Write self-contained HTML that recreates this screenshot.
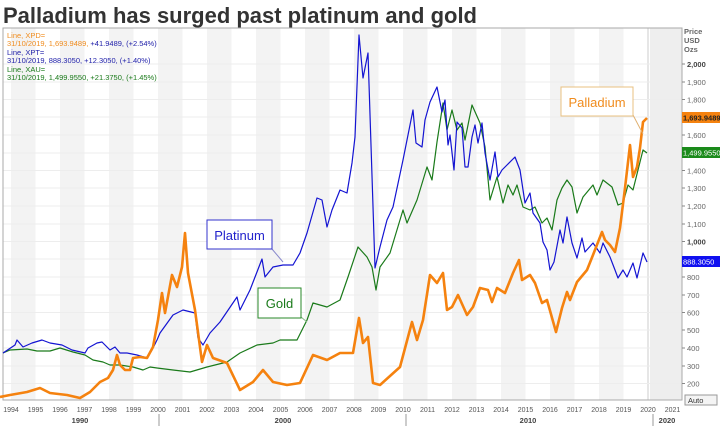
<!DOCTYPE html>
<html><head><meta charset="utf-8"><style>
body{margin:0;background:#fff;width:720px;height:426px;overflow:hidden;font-family:"Liberation Sans",sans-serif}
</style></head><body>
<svg width="720" height="426" viewBox="0 0 720 426" xmlns="http://www.w3.org/2000/svg" font-family="Liberation Sans, sans-serif">
<rect width="720" height="426" fill="#fff"/>
<text x="3" y="23" font-size="22" font-weight="bold" fill="#333" textLength="474" lengthAdjust="spacingAndGlyphs">Palladium has surged past platinum and gold</text>
<g fill="#f3f3f3">
<rect x="11" y="28" width="24.5" height="372"/>
<rect x="60" y="28" width="24.5" height="372"/>
<rect x="109" y="28" width="24.5" height="372"/>
<rect x="158" y="28" width="24.5" height="372"/>
<rect x="207" y="28" width="24.5" height="372"/>
<rect x="256" y="28" width="24.5" height="372"/>
<rect x="305" y="28" width="24.5" height="372"/>
<rect x="354" y="28" width="24.5" height="372"/>
<rect x="403" y="28" width="24.5" height="372"/>
<rect x="452" y="28" width="24.5" height="372"/>
<rect x="501" y="28" width="24.5" height="372"/>
<rect x="550" y="28" width="24.5" height="372"/>
<rect x="599" y="28" width="24.5" height="372"/>
<rect x="650" y="28" width="32" height="372" fill="#eeeeee"/>
</g>
<line x1="648" y1="28" x2="648" y2="400" stroke="#ccc"/>
<g stroke="#ededed" stroke-width="1">
<line x1="3" x2="682" y1="64" y2="64"/><line x1="3" x2="682" y1="82" y2="82"/><line x1="3" x2="682" y1="99.5" y2="99.5"/><line x1="3" x2="682" y1="117" y2="117"/><line x1="3" x2="682" y1="135" y2="135"/><line x1="3" x2="682" y1="153" y2="153"/><line x1="3" x2="682" y1="170.5" y2="170.5"/><line x1="3" x2="682" y1="188" y2="188"/><line x1="3" x2="682" y1="206" y2="206"/><line x1="3" x2="682" y1="224" y2="224"/><line x1="3" x2="682" y1="241.5" y2="241.5"/><line x1="3" x2="682" y1="259" y2="259"/><line x1="3" x2="682" y1="277" y2="277"/><line x1="3" x2="682" y1="295" y2="295"/><line x1="3" x2="682" y1="312.5" y2="312.5"/><line x1="3" x2="682" y1="330" y2="330"/><line x1="3" x2="682" y1="348" y2="348"/><line x1="3" x2="682" y1="366" y2="366"/><line x1="3" x2="682" y1="383.5" y2="383.5"/>
</g>
<rect x="3" y="28" width="679" height="372" fill="none" stroke="#aaa"/>
<g font-size="7.5">
<text x="7" y="38" fill="#f08c1e">Line, XPD=</text>
<text x="7" y="46" fill="#f08c1e">31/10/2019, 1,693.9489, <tspan fill="#2222aa">+41.9489, (+2.54%)</tspan></text>
<text x="7" y="55" fill="#2222aa">Line, XPT=</text>
<text x="7" y="63" fill="#2222aa">31/10/2019, 888.3050, +12.3050, (+1.40%)</text>
<text x="7" y="72" fill="#1a7a1a">Line, XAU=</text>
<text x="7" y="80" fill="#1a7a1a">31/10/2019, 1,499.9550, +21.3750, (+1.45%)</text>
</g>
<polyline fill="none" stroke="#1a7a1a" stroke-width="1.2" stroke-linejoin="round" points="3,353 10,350 27,349 37,351 50,351 60,348 73,352 85,355 93,360 103,362 110,365 120,365 133,367 143,370 150,367 157,368 173,370 190,372 207,367 227,362 240,353 257,345 273,343 280,340 297,340 307,320 313,303 327,307 340,300 348,277 358,247 367,257 372,267 376,290 380,267 390,253 403,210 407,223 417,200 427,167 432,180 437,142 443,103 447,130 452,110 457,130 462,123 465,140 472,105 480,123 485,147 490,200 497,177 503,203 508,185 513,195 517,185 523,207 530,210 535,207 542,223 547,218 552,230 557,200 562,188 567,180 572,187 577,213 583,197 593,185 597,195 603,180 612,187 618,205 623,203 628,185 633,190 638,170 643,150 647,153"/>
<polyline fill="none" stroke="#1414d2" stroke-width="1.2" stroke-linejoin="round" points="3,353 15,345 17,340 23,347 32,343 42,340 50,343 62,345 72,350 85,353 88,348 97,343 102,342 110,350 115,347 120,353 127,353 137,355 147,358 152,350 157,340 160,333 173,315 183,310 195,313 198,338 203,345 210,333 220,322 237,297 240,310 250,290 262,259 265,277 273,267 283,265 293,265 300,253 307,233 317,198 322,200 327,227 332,210 340,190 347,193 352,163 355,137 359,35 363,78 368,53 375,268 380,247 387,220 393,207 403,160 413,110 416,143 422,147 425,120 430,102 437,87 442,112 445,100 448,145 450,135 454,170 457,122 462,128 465,167 468,167 472,137 475,125 478,143 482,123 485,153 490,180 495,152 498,177 502,170 507,165 515,157 520,170 525,203 530,193 533,213 540,223 543,242 547,250 550,270 554,262 560,230 563,243 567,217 572,243 577,258 582,238 585,252 593,243 600,253 603,243 610,257 615,270 618,278 623,270 627,277 633,263 637,278 643,253 647,262"/>
<polyline fill="none" stroke="#f5820f" stroke-width="2.6" stroke-linejoin="round" points="0,397 10,395 27,392 40,388 50,393 67,395 80,398 90,392 100,382 108,378 113,370 117,355 120,365 125,370 130,370 133,358 140,357 147,358 153,347 158,320 162,293 165,313 172,275 177,287 182,267 185,233 188,273 195,310 202,362 207,345 213,358 227,363 240,390 253,382 263,370 273,382 287,385 300,383 313,355 327,360 340,353 353,353 359,318 363,343 368,337 373,383 380,385 400,367 412,322 417,340 423,320 430,275 437,283 443,273 447,310 452,307 458,295 467,315 473,307 480,288 488,290 492,302 497,288 505,293 513,273 519,260 522,280 530,275 535,283 542,303 547,300 556,332 562,308 567,292 570,300 577,282 587,270 593,255 602,232 605,240 610,245 615,252 620,228 625,188 630,145 633,177 637,167 640,148 643,122 647,118"/>
<line x1="272" y1="249" x2="283" y2="262" stroke="#8888cc"/>
<rect x="207" y="220" width="65" height="29" fill="#fff" stroke="#3333cc"/>
<text x="239.5" y="240" font-size="13" fill="#2222cc" text-anchor="middle">Platinum</text>
<line x1="301" y1="317" x2="307" y2="322" stroke="#88bb88"/>
<rect x="258" y="288" width="43" height="30" fill="#fff" stroke="#2a8a2a"/>
<text x="279.5" y="308" font-size="13" fill="#1a7a1a" text-anchor="middle">Gold</text>
<line x1="633" y1="115" x2="643" y2="134" stroke="#e0b070"/>
<rect x="561" y="87" width="72" height="29" fill="#fff" stroke="#e8c080"/>
<text x="597" y="107" font-size="13" fill="#f08c1e" text-anchor="middle">Palladium</text>
<g font-size="7.5" fill="#666">
<text x="684" y="34" font-weight="bold">Price</text>
<text x="684" y="43" font-weight="bold">USD</text>
<text x="684" y="52" font-weight="bold">Ozs</text>
</g>
<g font-size="7.5" fill="#666">
<text x="687" y="67" font-weight="bold" fill="#444">2,000</text>
<text x="687" y="85">1,900</text><text x="687" y="102.5">1,800</text>
<text x="687" y="138">1,600</text>
<text x="687" y="173.5">1,400</text><text x="687" y="191">1,300</text><text x="687" y="209">1,200</text><text x="687" y="227">1,100</text>
<text x="687" y="244.5" font-weight="bold" fill="#444">1,000</text>
<text x="687" y="280">800</text><text x="687" y="298">700</text><text x="687" y="315.5">600</text><text x="687" y="333">500</text><text x="687" y="351">400</text><text x="687" y="369">300</text><text x="687" y="386.5">200</text>
</g>
<g stroke="#888">
<line x1="682" x2="685" y1="64" y2="64"/><line x1="682" x2="685" y1="82" y2="82"/><line x1="682" x2="685" y1="99.5" y2="99.5"/><line x1="682" x2="685" y1="135" y2="135"/><line x1="682" x2="685" y1="170.5" y2="170.5"/><line x1="682" x2="685" y1="188" y2="188"/><line x1="682" x2="685" y1="206" y2="206"/><line x1="682" x2="685" y1="224" y2="224"/><line x1="682" x2="685" y1="241.5" y2="241.5"/><line x1="682" x2="685" y1="277" y2="277"/><line x1="682" x2="685" y1="295" y2="295"/><line x1="682" x2="685" y1="312.5" y2="312.5"/><line x1="682" x2="685" y1="330" y2="330"/><line x1="682" x2="685" y1="348" y2="348"/><line x1="682" x2="685" y1="366" y2="366"/><line x1="682" x2="685" y1="383.5" y2="383.5"/>
</g>
<rect x="682" y="112" width="38" height="11" fill="#f5820f"/>
<text x="683" y="120.5" font-size="7.5" font-weight="bold" fill="#222">1,693.9489</text>
<rect x="682" y="147" width="38" height="11" fill="#1a8a1a"/>
<text x="683" y="155.5" font-size="7.5" fill="#fff">1,499.9550</text>
<rect x="682" y="256" width="38" height="11" fill="#1010f0"/>
<text x="683" y="264.5" font-size="7.5" fill="#fff">888.3050</text>
<rect x="685" y="395" width="32" height="10" fill="#f4f4f4" stroke="#999"/>
<text x="688" y="403" font-size="7.5" fill="#333">Auto</text>
<g font-size="7" fill="#555" text-anchor="middle">
<text x="11" y="412">1994</text><text x="35.5" y="412">1995</text><text x="60" y="412">1996</text><text x="84.5" y="412">1997</text><text x="109" y="412">1998</text><text x="133.5" y="412">1999</text><text x="158" y="412">2000</text><text x="182.5" y="412">2001</text><text x="207" y="412">2002</text><text x="231.5" y="412">2003</text><text x="256" y="412">2004</text><text x="280.5" y="412">2005</text><text x="305" y="412">2006</text><text x="329.5" y="412">2007</text><text x="354" y="412">2008</text><text x="378.5" y="412">2009</text><text x="403" y="412">2010</text><text x="427.5" y="412">2011</text><text x="452" y="412">2012</text><text x="476.5" y="412">2013</text><text x="501" y="412">2014</text><text x="525.5" y="412">2015</text><text x="550" y="412">2016</text><text x="574.5" y="412">2017</text><text x="599" y="412">2018</text><text x="623.5" y="412">2019</text><text x="648" y="412">2020</text><text x="672.5" y="412">2021</text>
</g>
<g font-size="7.5" fill="#444" font-weight="bold" text-anchor="middle">
<text x="80" y="423">1990</text><text x="283" y="423">2000</text><text x="528" y="423">2010</text><text x="667" y="423">2020</text>
</g>
<g stroke="#999"><line x1="159" y1="414" x2="159" y2="426"/><line x1="406" y1="414" x2="406" y2="426"/><line x1="653" y1="414" x2="653" y2="426"/></g>
</svg>
</body></html>
